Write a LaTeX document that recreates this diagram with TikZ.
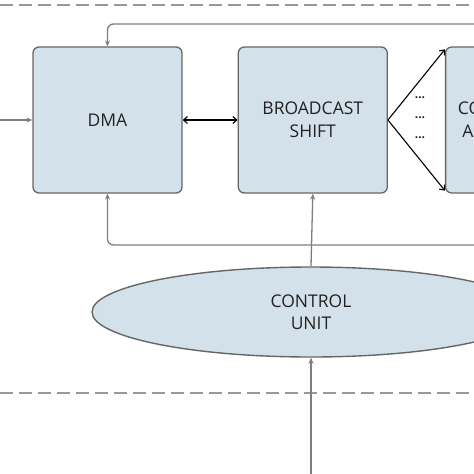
\documentclass[tikz,border=0pt]{standalone}
\usepackage{fontspec}
\setmainfont{Open Sans}
\usetikzlibrary{shapes.geometric, positioning, arrows.meta, calc}

\definecolor{boxfill}{HTML}{D3E2EA}
\definecolor{boxline}{HTML}{666666}
\definecolor{wiregray}{HTML}{7E7E7E}
\definecolor{inkgray}{HTML}{222222}

\begin{document}
\begin{tikzpicture}[x=1pt, y=-1pt,
    unit/.style={rectangle, draw=boxline, line width=1.3pt, fill=boxfill,
                 rounded corners=6pt, minimum width=149pt, minimum height=146pt,
                 align=center, text=inkgray, font=\fontsize{17.5}{23}\selectfont,
                 inner sep=0pt},
    ctrl/.style={ellipse, draw=boxline, line width=1.4pt, fill=boxfill,
                 minimum width=438pt, minimum height=90pt, align=center,
                 text=inkgray, font=\fontsize{17.5}{22}\selectfont, inner sep=0pt},
    dots/.style={font=\bfseries\fontsize{12}{12}\selectfont, text=inkgray, inner sep=0pt},
    wire/.style={draw=wiregray, line width=1.3pt, -{Stealth[length=6pt, width=5pt]}},
    bus/.style={draw=black, line width=1.1pt, -{Straight Barb[length=4pt, width=7pt]}},
    twoway/.style={{Straight Barb[length=4pt, width=7pt]}-{Straight Barb[length=4pt, width=7pt]}},
    border/.style={draw=wiregray!80, line width=1.2pt, dash pattern=on 13pt off 6pt}
]
    \clip (0,0) rectangle (474,474);

    \node[unit]                      (dma)    at (107.5,120) {DMA};
    \node[unit, right=55pt of dma]   (bshift) {BROADCAST\\SHIFT};
    \node[unit, right=57pt of bshift](accel)  {CONVOLUTION\\ACCELERATOR};
    \node[ctrl]                      (cu)     at (311,312) {CONTROL\\UNIT};

    \node[dots] (dotsa) at (420,98)  {...};
    \node[dots] (dotsb) at (420,118) {...};
    \node[dots] (dotsc) at (420,138) {...};

    \coordinate (in)       at (0,120);
    \coordinate (topright) at (474,24);
    \coordinate (busright) at (474,245);
    \coordinate (bottom)   at (311,474);
    \coordinate (accup)    at ($(accel.north west)+(0,3)$);
    \coordinate (accdown)  at ($(accel.south west)+(0,-3)$);

    % boundaries
    \draw[border] (0,5) -- (474,5);
    \draw[border] (0,393) -- (474,393);

    \draw[wire] (in) -- (dma);
    \draw[wire, rounded corners=6pt] (topright) -| (dma.north);
    \draw[bus, twoway] (dma) -- (bshift);
    \draw[bus] (bshift.east) -- (accup);
    \draw[bus] (bshift.east) -- (accdown);
    \draw[wire, rounded corners=6pt] (busright) -| (dma.south);
    \draw[wire] (cu.north) -- (bshift.south);
    \draw[wire] (bottom) -- (cu.south);
\end{tikzpicture}
\end{document}
